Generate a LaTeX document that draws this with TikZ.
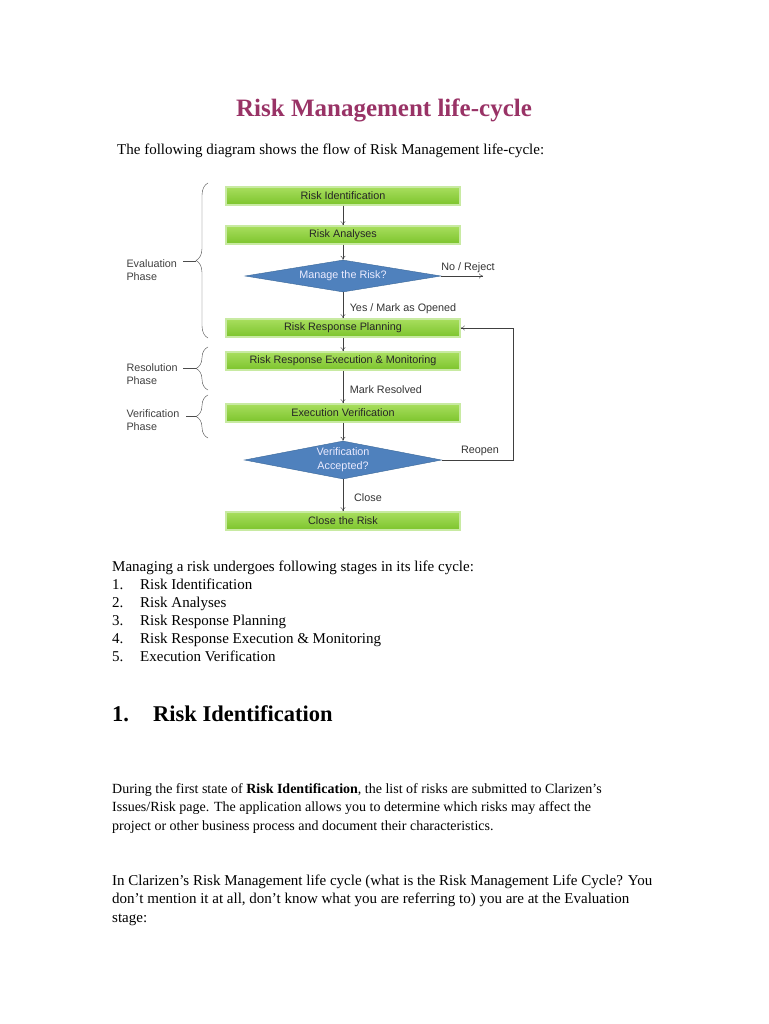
\documentclass[tikz,border=0pt]{standalone}
\usepackage{fontspec}
\setmainfont{Liberation Serif}
\newfontfamily\diagfont{Liberation Sans}
\usetikzlibrary{shapes.geometric, arrows.meta, positioning, decorations.pathreplacing}
\definecolor{titlered}{HTML}{993366}
\definecolor{steptop}{HTML}{A8DE5E}
\definecolor{stepbottom}{HTML}{7CC42C}
\definecolor{stepedge}{HTML}{C8EAA2}
\definecolor{askblue}{HTML}{4F81BD}
\definecolor{askedge}{HTML}{3A6797}
\definecolor{linegray}{HTML}{404040}
\tikzset{
    stepbox/.style={draw=stepedge, line width=1.5pt, top color=steptop, bottom color=stepbottom, minimum width=234pt, minimum height=18pt, inner sep=0pt, font=\diagfont\fontsize{10.8}{12}\selectfont, text=black!85},
    askbox/.style={diamond, aspect=6, draw=askedge, fill=askblue, minimum width=196pt, minimum height=32pt, inner sep=0pt, align=center, text=white!92!blue, font=\diagfont\fontsize{10.8}{14}\selectfont},
    arrow/.style={-{To[length=4pt,width=5pt]}, linegray},
    flowlabel/.style={font=\diagfont\fontsize{10.8}{12}\selectfont, text=black!80},
    phase/.style={font=\diagfont\fontsize{10.8}{13.5}\selectfont, text=black!75, align=left, anchor=west},
    brace/.style={decorate, decoration={brace, amplitude=12pt}, black!70},
    body/.style={font=\fontsize{15}{18}\selectfont, anchor=base west, inner sep=0pt},
    bodyslim/.style={body, font=\fontsize{14}{18}\selectfont}
}
\begin{document}
\begin{tikzpicture}[x=1pt, y=-1pt]
    \useasboundingbox (0,0) rectangle (768,1024);
    % title and intro
    \node [font=\bfseries\fontsize{25}{28}\selectfont, text=titlered, anchor=base, inner sep=0pt] (title) at (384,117) {Risk Management life-cycle};
    \node [body] (intro) at (117,155) {The following diagram shows the flow of Risk Management life-cycle:};

    % flow chart
    \node [stepbox] (ident) at (343,196) {Risk Identification};
    \node [stepbox] (analyse) at (343,235) {Risk Analyses};
    \node [askbox] (manage) at (343,276) {Manage the Risk?};
    \node [stepbox] (plan) at (343,328) {Risk Response Planning};
    \node [stepbox] (execute) at (343,361) {Risk Response Execution \& Monitoring};
    \node [stepbox] (verify) at (343,413) {Execution Verification};
    \node [askbox, minimum height=38pt] (accept) at (343,460) {Verification\\Accepted?};
    \node [stepbox] (close) at (343,521) {Close the Risk};
    \coordinate (reject) at (483,276);
    \coordinate (loop) at (513,460);

    \draw [arrow] (ident) -- (analyse);
    \draw [arrow] (analyse) -- (manage);
    \draw [arrow] (manage.east) -- (reject);
    \draw [arrow] (manage) -- (plan);
    \draw [arrow] (plan) -- (execute);
    \draw [arrow] (execute) -- (verify);
    \draw [arrow] (verify) -- (accept);
    \draw [arrow] (accept) -- (close);
    \draw [arrow] (accept.east) -- (loop) |- (plan.east);

    \node [flowlabel] (rejectlbl) at (468,268) {No / Reject};
    \node [flowlabel] (openlbl) at (403,309) {Yes / Mark as Opened};
    \node [flowlabel] (resolvelbl) at (386,390) {Mark Resolved};
    \node [flowlabel] (reopenlbl) at (480,451) {Reopen};
    \node [flowlabel] (closelbl) at (368,498) {Close};

    % phases
    \node [phase] (evalph) at (123,270) {Evaluation\\Phase};
    \node [phase] (resph) at (123,374) {Resolution\\Phase};
    \node [phase] (verph) at (123,420) {Verification\\Phase};
    \draw [brace] (208,338) -- (208,183);
    \draw [brace] (208,390) -- (208,347);
    \draw [brace] (208,438) -- (208,395);
    \draw [black!70] (183,261) -- (196,261);
    \draw [black!70] (183,368) -- (196,368);
    \draw [black!70] (186,416) -- (196,416);

    % stages list
    \node [body] (stages) at (112,571) {Managing a risk undergoes following stages in its life cycle:};
    \foreach \n/\txt [count=\i from 0] in {1/Risk Identification, 2/Risk Analyses, 3/Risk Response Planning, 4/Risk Response Execution \& Monitoring, 5/Execution Verification} {
        \node [body] (num\n) at (112,589+18*\i) {\n.};
        \node [body] (item\n) at (140,589+18*\i) {\txt};
    }

    % section
    \node [body, font=\bfseries\fontsize{22.5}{26}\selectfont] (secnum) at (112,721) {1.};
    \node [body, font=\bfseries\fontsize{22.5}{26}\selectfont] (sectitle) at (153,721) {Risk Identification};

    \node [bodyslim] (p1a) at (112,793) {During the first state of \textbf{Risk Identification}, the list of risks are submitted to Clarizen’s};
    \node [bodyslim] (p1b) at (112,811.5) {Issues/Risk page. The application allows you to determine which risks may affect the};
    \node [bodyslim] (p1c) at (112,830) {project or other business process and document their characteristics.};
    \node [body] (p2a) at (112,885) {In Clarizen’s Risk Management life cycle (what is the Risk Management Life Cycle? You};
    \node [body] (p2b) at (112,903.5) {don’t mention it at all, don’t know what you are referring to) you are at the Evaluation};
    \node [body] (p2c) at (112,922) {stage:};
\end{tikzpicture}
\end{document}
